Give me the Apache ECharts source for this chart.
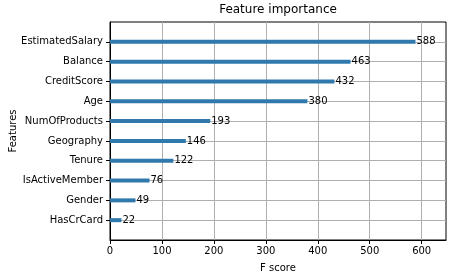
<!DOCTYPE html>
<html><head><meta charset="utf-8">
<script src="https://cdn.jsdelivr.net/npm/echarts@6/dist/echarts.min.js"></script>
<style>html,body{margin:0;padding:0;background:#fff}#c{width:455px;height:278px}</style>
</head><body><div id="c"></div>
<script>
// Features listed bottom-to-top (as drawn on the y axis)
const features = ['HasCrCard','Gender','IsActiveMember','Tenure','Geography','NumOfProducts','Age','CreditScore','Balance','EstimatedSalary'];
const fScores = [22, 49, 76, 122, 146, 193, 380, 432, 463, 588];
const xTicks = [0, 100, 200, 300, 400, 500, 600];

const cats = [''].concat(features, ['']);
const vals = [null].concat(fScores, [null]);
const xMax = Math.max(...fScores) * 1.1;
const F = 'DejaVu Sans';
const chart = echarts.init(document.getElementById('c'));
chart.setOption({
  animation: false,
  backgroundColor: '#fff',
  title: {text: 'Feature importance', left: 278, top: 4, textAlign: 'center', padding: 0,
    textStyle: {fontFamily: F, fontSize: 12, fontWeight: 'normal', color: '#000'}},
  grid: {left: 110, right: 9, top: 22, bottom: 38, show: true, borderColor: '#000', borderWidth: 1,
    backgroundColor: 'transparent', containLabel: false, outerBoundsMode: 'none'},
  xAxis: {type: 'value', min: 0, max: xMax, interval: 100,
    name: 'F score', nameLocation: 'middle', nameGap: 23, nameMoveOverlap: false,
    nameTextStyle: {fontFamily: F, fontSize: 10, color: '#000'},
    axisLine: {show: true, lineStyle: {color: '#000', width: 1}},
    axisTick: {show: true, length: 4, lineStyle: {color: '#000'}, customValues: xTicks},
    axisLabel: {fontFamily: F, fontSize: 10, color: '#000', margin: 6, customValues: xTicks},
    splitLine: {show: true, lineStyle: {color: '#b0b0b0', width: 1}}},
  yAxis: {type: 'category', data: cats, boundaryGap: false,
    name: 'Features', nameLocation: 'middle', nameGap: 92, nameRotate: 90, nameMoveOverlap: false,
    nameTextStyle: {fontFamily: F, fontSize: 10, color: '#000'},
    axisLine: {show: true, onZero: false, lineStyle: {color: '#000', width: 1}},
    axisTick: {show: true, length: 4, lineStyle: {color: '#000'}, interval: (i) => i > 0 && i < cats.length - 1},
    axisLabel: {fontFamily: F, fontSize: 10, color: '#000', margin: 7, interval: 0},
    splitLine: {show: true, lineStyle: {color: '#b0b0b0', width: 1}, interval: (i) => i > 0 && i < cats.length - 1}},
  series: [{type: 'bar', data: vals, barWidth: 4,
    itemStyle: {color: '#3079ad'},
    label: {show: true, position: 'right', distance: 1, fontFamily: F, fontSize: 10, color: '#000'}}]
});
</script></body></html>
